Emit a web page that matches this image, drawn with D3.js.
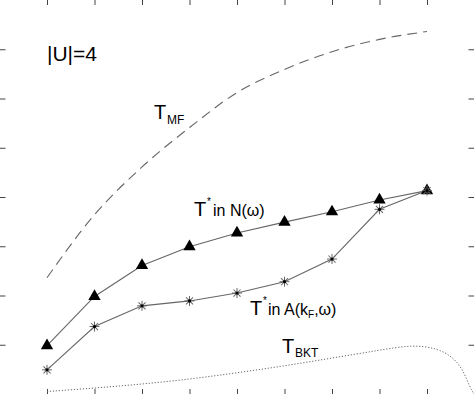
<!DOCTYPE html>
<html><head><meta charset="utf-8">
<script src="https://cdn.jsdelivr.net/npm/d3@7"></script>
<style>body{margin:0;background:#fff}svg{display:block}</style>
</head><body>
<script>
const xIdx = [1,2,3,4,5,6,7,8,9];
const tStarN = [0.98,1.98,2.61,2.99,3.27,3.49,3.70,3.94,4.13];
const tStarA = [0.49,1.37,1.79,1.89,2.05,2.28,2.74,3.75,4.13];
const tMF = [2.36,3.64,4.61,5.41,6.12,6.59,6.95,7.20,7.36];
const bktX = [1,2,3,4,5,6,7,8,8.7,9.21,9.55,9.76,9.9,9.99];
const bktY = [0.05,0.12,0.2,0.3,0.43,0.57,0.73,0.89,1.0,0.93,0.75,0.49,0.14,0];
const xTicks = [1,2,3,4,5,6,7,8,9];
const yTicks = [1,2,3,4,5,6,7];

const W=474,H=394;
const svg=d3.select("body").append("svg").attr("width",W).attr("height",H);
const x=d3.scaleLinear().domain([0,10]).range([-0.5,474.5]);
const y=d3.scaleLinear().domain([0,8]).range([394,0]);

function axis(a,tr){
  const g=svg.append("g").attr("transform",tr).call(a);
  g.select(".domain").remove();
  g.selectAll("text").remove();
  g.selectAll("line").attr("stroke","#444");
}
axis(d3.axisBottom(x).tickValues(xTicks).tickSize(-5),`translate(0,${H})`);
axis(d3.axisTop(x).tickValues(xTicks).tickSize(-5),`translate(0,0)`);
axis(d3.axisLeft(y).tickValues(yTicks).tickSize(-6),`translate(-0.5,0)`);
axis(d3.axisRight(y).tickValues(yTicks).tickSize(-6),`translate(474.5,0)`);

const lineC=d3.line().x((d,i)=>x(xIdx[i])).y(d=>y(d));
svg.append("path").attr("d",d3.line().curve(d3.curveMonotoneX).x((d,i)=>x(xIdx[i])).y(d=>y(d))(tMF))
  .attr("fill","none").attr("stroke","#666").attr("stroke-width",1.1).attr("stroke-dasharray","10,6");
svg.append("path").attr("d",d3.line().curve(d3.curveBasis).x((d,i)=>x(bktX[i])).y(d=>y(d))(bktY))
  .attr("fill","none").attr("stroke","#666").attr("stroke-width",1).attr("stroke-dasharray","1.2,1.8");
svg.append("path").attr("d",lineC(tStarN)).attr("fill","none").attr("stroke","#666").attr("stroke-width",1.1);
svg.append("path").attr("d",lineC(tStarA)).attr("fill","none").attr("stroke","#666").attr("stroke-width",1.1);

const tri=d3.symbol().type(d3.symbolTriangle).size(66);
svg.selectAll(".tri").data(tStarN).enter().append("path")
  .attr("d",tri).attr("transform",(d,i)=>`translate(${x(xIdx[i])},${y(d)})`).attr("fill","#000");
const star=svg.selectAll(".star").data(tStarA).enter().append("g")
  .attr("transform",(d,i)=>`translate(${x(xIdx[i])},${y(d)})`);
[0,45,90,135].forEach(a=>{
  star.append("line").attr("x1",-5).attr("x2",5).attr("y1",0).attr("y2",0)
   .attr("transform",`rotate(${a})`).attr("stroke","#666").attr("stroke-width",1);
});
star.append("circle").attr("r",1.6).attr("fill","#000");

const F="Liberation Sans, Arial, sans-serif";
function txt(xp,yp,s,size){return svg.append("text").attr("x",xp).attr("y",yp).attr("font-family",F).attr("font-size",size).attr("fill","#000").text(s);}
txt(47,61,"|U|=4",21);
// T_MF
txt(154,119,"T",20); txt(167,124,"MF",12);
// T* in N(w)
txt(194,216,"T",20); txt(207,205,"*",10); txt(213,216,"in N(ω)",16);
// T* in A(kF,w)
txt(250,315,"T",20); txt(263,304,"*",10);
const ta=svg.append("text").attr("x",268).attr("y",315).attr("font-family",F).attr("font-size",16).attr("fill","#000");
ta.append("tspan").text("in A(k");
ta.append("tspan").attr("dy",3).attr("font-size",10).text("F");
ta.append("tspan").attr("dy",-3).text(",ω)");
// T_BKT
txt(282,353,"T",20); txt(295,357,"BKT",12);
</script>
</body></html>
